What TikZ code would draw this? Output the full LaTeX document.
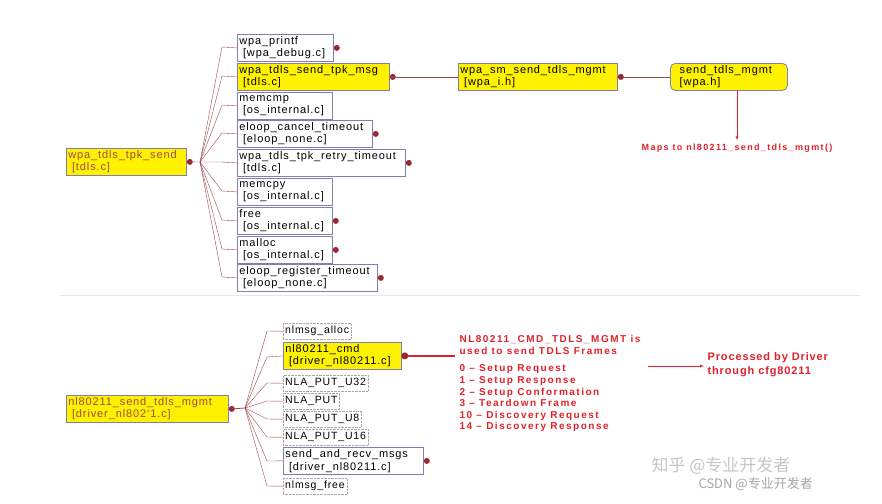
\documentclass[tikz,border=0pt]{standalone}
\usepackage{fontspec}
\setmainfont{Liberation Sans}[LetterSpace=8]
\newfontfamily\notefont{Liberation Sans}[LetterSpace=15]
\newfontfamily\cjk{Noto Sans CJK SC}
\usepackage{xcolor}
\definecolor{tdlsyel}{HTML}{FFF200}
\definecolor{tdlsline}{HTML}{A0474A}
\definecolor{tdlsdot}{HTML}{9B2830}
\definecolor{tdlsbox}{HTML}{7F7FB0}
\definecolor{tdlsred}{HTML}{E0202A}
\begin{document}
\begin{tikzpicture}[x=1pt,y=-1pt,
  fn/.style={draw=tdlsbox,thick,anchor=north west,align=left,inner sep=2pt,
    minimum height=27pt,font=\fontsize{11}{12.5}\selectfont},
  stub/.style={draw=gray!70,densely dotted,anchor=north west,inner sep=2pt,
    minimum height=16pt,font=\fontsize{10.5}{12}\selectfont},
  link/.style={tdlsline},
  note/.style={text=tdlsred,font=\notefont\bfseries\fontsize{10}{11.6}\selectfont,align=left}]
\useasboundingbox (0,0) rectangle (882,503);
% Top call tree
\node[fn,fill=tdlsyel,text=tdlsline,text width=116pt] (tpksend) at (66,148)
  {wpa\_tdls\_tpk\_send\\{}\ [tdls.c]};
\fill[tdlsdot] (tpksend.east) ++(3,0) coordinate (tpkdot) circle (3);
\coordinate (tpkfork) at (200,162);
\draw[link] (tpkdot) -- (tpkfork);
\foreach \n/\t/\c/\y/\w in {
  printf/{wpa\_printf\\{}\ [wpa\_debug.c]}/white/34/92,
  tpkmsg/{wpa\_tdls\_send\_tpk\_msg\\{}\ [tdls.c]}/tdlsyel/63/148,
  memcmp/{memcmp\\{}\ [os\_internal.c]}/white/92/91,
  cancel/{eloop\_cancel\_timeout\\{}\ [eloop\_none.c]}/white/120/131,
  retry/{wpa\_tdls\_tpk\_retry\_timeout\\{}\ [tdls.c]}/white/149/164,
  memcpy/{memcpy\\{}\ [os\_internal.c]}/white/178/91,
  free/{free\\{}\ [os\_internal.c]}/white/207/91,
  malloc/{malloc\\{}\ [os\_internal.c]}/white/236/91,
  register/{eloop\_register\_timeout\\{}\ [eloop\_none.c]}/white/264/136}{
  \node[fn,fill=\c,text width=\w pt] (\n) at (237,\y) {\t};
  \draw[link] (tpkfork) -- (222,\y+13) -- (\n.west);
}
\foreach \n in {printf,tpkmsg,cancel,retry,free,malloc,register}
  \fill[tdlsdot] (\n.east) ++(3,0) circle (3);
\node[fn,fill=tdlsyel,text width=155pt] (smsend) at (458,63)
  {wpa\_sm\_send\_tdls\_mgmt\\{}\ [wpa\_i.h]};
\node[fn,fill=tdlsyel,rounded corners=5pt,text width=113pt] (send) at (670,63)
  {\ \ send\_tdls\_mgmt\\{}\ \ [wpa.h]};
\draw[link] (tpkmsg.east) -- (smsend.west);
\draw[link] (smsend.east) -- (send.west);
\fill[tdlsdot] (smsend.east) ++(3,0) circle (3);
\node[note,font=\notefont\bfseries\fontsize{9}{10}\selectfont] (maps) at (737,148)
  {Maps to nl80211\_send\_tdls\_mgmt()};
\draw[tdlsred,-latex] (send.south -| maps.north) -- (maps.north);
% Separator
\draw[gray!20] (60,295) -- (860,295);
% Bottom call tree
\node[fn,fill=tdlsyel,text=tdlsline,text width=158pt] (nlsend) at (66,395)
  {nl80211\_send\_tdls\_mgmt\\{}\ [driver\_nl802\textquoteleft1.c]};
\fill[tdlsdot] (nlsend.east) ++(3,0) coordinate (nldot) circle (3);
\coordinate (nlfork) at (245,408);
\draw[link,thick] (nldot) -- (nlfork);
\foreach \n/\t/\y in {alloc/nlmsg\_alloc/323, u32/NLA\_PUT\_U32/375, put/NLA\_PUT/393,
  u8/NLA\_PUT\_U8/411, u16/NLA\_PUT\_U16/429, nlfree/nlmsg\_free/478}{
  \node[stub] (\n) at (283,\y) {\t};
  \draw[link] (nlfork) -- (267,\y+8) -- (\n.west);
}
\node[fn,fill=tdlsyel,text width=114pt] (cmd) at (283,342)
  {nl80211\_cmd\\{}\ [driver\_nl80211.c]};
\node[fn,fill=white,text width=136pt] (recv) at (283,447)
  {send\_and\_recv\_msgs\\{}\ [driver\_nl80211.c]};
\draw[link] (nlfork) -- (267,357) -- (cmd.west);
\draw[link] (nlfork) -- (267,461) -- (recv.west);
\fill[tdlsdot] (recv.east) ++(3,0) circle (3);
\node[note,anchor=north west] (cmdnote) at (456,332)
  {NL80211\_CMD\_TDLS\_MGMT is\\ used to send TDLS Frames\\[6pt]
   0 – Setup Request\\ 1 – Setup Response\\ 2 – Setup Conformation\\
   3 – Teardown Frame\\ 10 – Discovery Request\\ 14 – Discovery Response};
\coordinate (cmdend) at (455,0);
\draw[tdlsred,very thick] (cmd.east) -- (cmd.east -| cmdend);
\fill[tdlsdot] (cmd.east) ++(3,0) circle (3.5);
\node[note,anchor=north west,font=\bfseries\fontsize{11}{14}\selectfont] (driver) at (704,349)
  {Processed by Driver\\ through cfg80211};
\coordinate (drvfrom) at (648,366);
\draw[tdlsred,-latex] (drvfrom) -- (driver.west |- drvfrom);
% Watermark
\node[text=gray!45,font=\cjk\fontsize{17}{17}\selectfont,anchor=west] (zhihu) at (648,466) {知乎 @专业开发者};
\node[text=gray!70,font=\cjk\fontsize{13}{13}\selectfont,anchor=west] (csdn) at (695,484) {CSDN @专业开发者};
\end{tikzpicture}
\end{document}
